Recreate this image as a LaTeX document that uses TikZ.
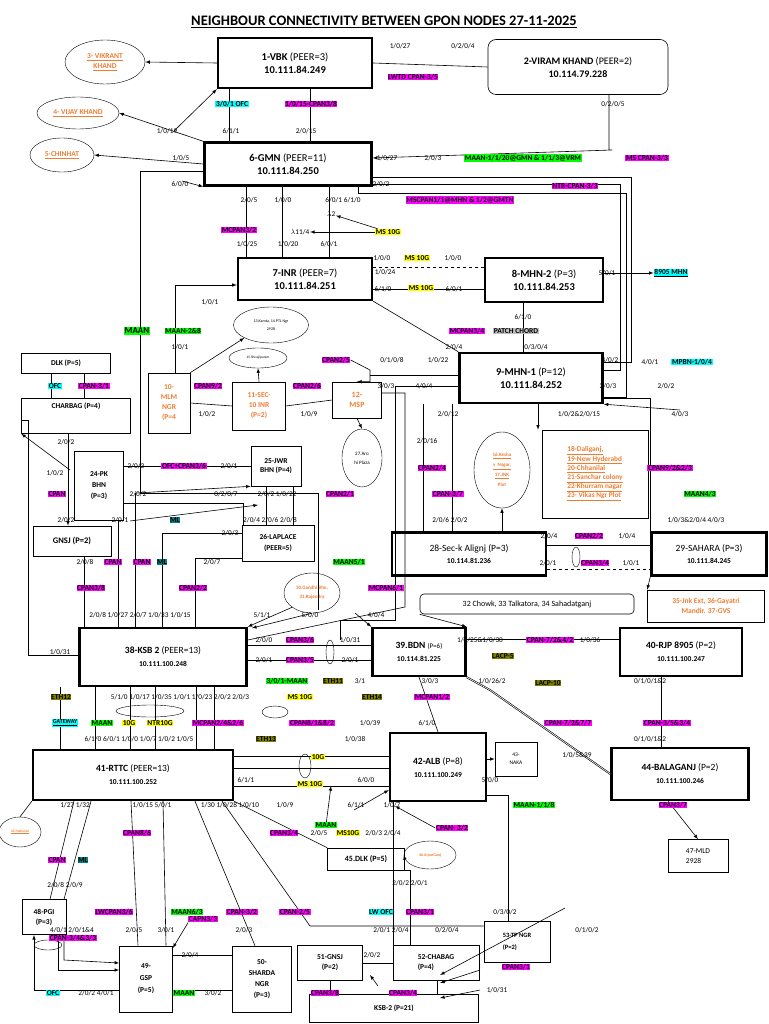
\documentclass[tikz,border=0pt]{standalone}
\usepackage{fontspec}
\setmainfont{Carlito}
\usetikzlibrary{positioning,shapes.geometric}
\definecolor{mag}{RGB}{255,0,255}
\definecolor{grn}{RGB}{0,255,0}
\definecolor{yel}{RGB}{255,255,0}
\definecolor{cya}{RGB}{0,255,255}
\definecolor{olv}{RGB}{128,128,0}
\definecolor{tel}{RGB}{0,128,128}
\definecolor{gry}{RGB}{192,192,192}
\definecolor{org}{RGB}{237,125,49}
\tikzset{
  box/.style={draw, line width=#1, align=center, inner sep=1pt, font=\fontsize{8}{10}\selectfont},
  box/.default=0.6pt,
  big/.style={box=2.4pt, font=\fontsize{10.5}{13}\selectfont},
  site/.style={draw, ellipse, align=center, text=org, font=\fontsize{7.5}{10}\selectfont\bfseries},
  oval/.style={draw, ellipse, align=center, inner sep=0pt},
  tag/.style={fill=#1, inner sep=0.6pt, font=\fontsize{7.5}{8}\selectfont\bfseries},
  port/.style={inner sep=0.5pt, font=\fontsize{7.3}{8}\selectfont},
  link/.style={line width=0.6pt},
  arr/.style={link, -latex}
}
\def\pl(#1,#2)#3{\node[port] at (#1,#2) {#3};}
\begin{document}
\begin{tikzpicture}[x=1pt,y=-1pt]
\useasboundingbox (0,0) rectangle (768,1024);
% title
\node[font=\fontsize{14.5}{16}\selectfont\bfseries] (title) at (384,22) {\underline{NEIGHBOUR CONNECTIVITY BETWEEN GPON NODES 27-11-2025}};
% main nodes
\node[big, minimum width=154, minimum height=50] (vbk) at (295,63) {\textbf{1-VBK} (PEER=3)\\\textbf{10.111.84.249}};
\node[box, rounded corners=8pt, minimum width=180, minimum height=55, font=\fontsize{10}{13}\selectfont] (viram) at (578,67) {\textbf{2-VIRAM KHAND} (PEER=2)\\\textbf{10.114.79.228}};
\node[site, minimum width=80, minimum height=44] (vikrant) at (105,62) {\underline{3- VIKRANT}\\\underline{KHAND}};
\node[site, minimum width=82, minimum height=32] (vijay) at (78,113) {\underline{4- VIJAY KHAND}};
\node[site, minimum width=64, minimum height=34] (chinhat) at (62,155) {\underline{5-CHINHAT}};
\node[big, minimum width=167, minimum height=43] (gmn) at (288,164) {\textbf{6-GMN} (PEER=11)\\\textbf{10.111.84.250}};
\node[big, minimum width=134, minimum height=42] (inr) at (305,279) {\textbf{7-INR} (PEER=7)\\\textbf{10.111.84.251}};
\node[big, minimum width=118, minimum height=44] (mhn2) at (544,280) {\textbf{8-MHN-2} (P=3)\\\textbf{10.111.84.253}};
\node[tag=cya] (mhn8905) at (671,273) {\underline{8905 MHN}};
\node[big, minimum width=143, minimum height=50] (mhn1) at (531,378) {\textbf{9-MHN-1} (P=12)\\\textbf{10.111.84.252}};
\node[box, minimum width=89, minimum height=20, font=\fontsize{7.5}{9}\selectfont\bfseries] (dlk) at (66,363) {DLK (P=5)};
\node[box, minimum width=109, minimum height=35, font=\fontsize{7.5}{9}\selectfont\bfseries, anchor=north, text depth=20pt] (charbag) at (76,398) {CHARBAG (P=4)};
\node[box, minimum width=42, minimum height=60, text=org, font=\fontsize{7.5}{10}\selectfont\bfseries] (mlm) at (169,403) {10-\\MLM\\NGR\\(P=4};
\node[box, minimum width=53, minimum height=48, text=org, font=\fontsize{7.5}{10}\selectfont\bfseries] (sec10) at (259,406) {11-SEC-\\10 INR\\(P=2)};
\node[box, minimum width=49, minimum height=36, text=org, font=\fontsize{8}{10}\selectfont\bfseries] (msp) at (357,400) {12-\\MSP};
\node[oval, minimum width=75, minimum height=36, font=\fontsize{4}{8}\selectfont] (kamta) at (271,325) {13.Kamta, 14.PTL Ngr\\2928};
\node[oval, minimum width=58, minimum height=20, font=\fontsize{3.5}{5}\selectfont] (shivaji) at (258,358) {15.Shivajipuram};
\node[oval, minimum width=40, minimum height=58, font=\fontsize{5}{9}\selectfont] (arohi) at (362,458) {27.Aro\\hi Plaza};
\node[box, minimum width=49, minimum height=69, font=\fontsize{7.5}{11}\selectfont\bfseries] (pkbhn) at (99,486) {24-PK\\BHN\\(P=3)};
\node[box, minimum width=50, minimum height=40, font=\fontsize{7.5}{9}\selectfont\bfseries] (jwr) at (276,466) {25-JWR\\BHN (P=4)};
\node[box, minimum width=72, minimum height=36, font=\fontsize{7.5}{11}\selectfont\bfseries] (laplace) at (278,543) {26-LAPLACE\\(PEER=5)};
\node[box, minimum width=78, minimum height=30, font=\fontsize{8.5}{10}\selectfont\bfseries] (gnsj) at (72,541) {GNSJ (P=2)};
\node[big, minimum width=154, minimum height=43, font=\fontsize{9.5}{12}\selectfont] (seck) at (469,554) {28-Sec-k Alignj (P=3)\\\textbf{\fontsize{7.5}{10}\selectfont 10.114.81.236}};
\node[big, minimum width=115, minimum height=43, font=\fontsize{9.5}{12}\selectfont] (sahara) at (709,554) {29-SAHARA (P=3)\\\textbf{\fontsize{7.5}{10}\selectfont 10.111.84.245}};
\node[oval, minimum width=56, minimum height=76, text=org, font=\fontsize{5}{10}\selectfont\bfseries] (kesha) at (502,470) {\underline{16.Kesha}\\\underline{v\ \ Nagar,}\\\underline{17.JNK}\\Plot};
\node[box, minimum width=106, minimum height=88, text=org, align=left, font=\fontsize{7.3}{9.2}\selectfont\bfseries] (dali) at (595,474) {\underline{18-Daliganj,}\\\underline{19-New Hyderabd}\\\underline{20-Chhanilal}\\\underline{21-Sanchar colony}\\\underline{22-Khurram nagar}\\\underline{23- Vikas Ngr Plot}};
\node[oval, minimum width=56, minimum height=40, text=org, font=\fontsize{5}{9}\selectfont\bfseries] (gandhi) at (312,593) {30.Gandhi Bhn,\\31.Rajendra};
\node[box, rounded corners=4pt, minimum width=214, minimum height=20, font=\fontsize{8}{9}\selectfont] (chowk) at (527,604) {32 Chowk, 33 Talkatora, 34 Sahadatganj};
\node[box, minimum width=117, minimum height=32, text=org, font=\fontsize{7.5}{10}\selectfont\bfseries] (jnk) at (706,606) {35-Jnk Ext, 36-Gayatri\\Mandir. 37-GVS};
\node[big, minimum width=167, minimum height=58, font=\fontsize{9.5}{13}\selectfont] (ksb) at (163,657) {\textbf{38-KSB 2} (PEER=13)\\\textbf{\fontsize{7.5}{10}\selectfont 10.111.100.248}};
\node[big, minimum width=93, minimum height=48, font=\fontsize{9.5}{13}\selectfont] (bdn) at (419,652) {\textbf{39.BDN} {\fontsize{7}{9}\selectfont(P=6)}\\\textbf{\fontsize{7.5}{10}\selectfont 10.114.81.225}};
\node[big, minimum width=122, minimum height=48, font=\fontsize{9.5}{13}\selectfont] (rjp) at (681,652) {\textbf{40-RJP 8905} (P=2)\\\textbf{\fontsize{7.5}{10}\selectfont 10.111.100.247}};
\node[big, minimum width=200, minimum height=50, font=\fontsize{9.5}{13}\selectfont] (rttc) at (133,775) {\textbf{41-RTTC} (PEER=13)\\\textbf{\fontsize{7.5}{10}\selectfont 10.111.100.252}};
\node[big, minimum width=96, minimum height=68, font=\fontsize{9.5}{13}\selectfont, anchor=north] (alb) at (438,732) {\textbf{42-ALB} (P=8)\\\textbf{\fontsize{7.5}{10}\selectfont 10.111.100.249}};
\node[box, minimum width=42, minimum height=34, font=\fontsize{5.5}{8}\selectfont] (naka) at (516,759) {43-\\NAKA};
\node[big, minimum width=137, minimum height=52, font=\fontsize{9.5}{13}\selectfont] (bala) at (680,774) {\textbf{44-BALAGANJ} (P=2)\\\textbf{\fontsize{7.5}{10}\selectfont 10.111.100.246}};
\node[box, minimum width=77, minimum height=22, font=\fontsize{8}{9}\selectfont\bfseries] (dlk45) at (366,859) {45.DLK (P=5)};
\node[oval, minimum width=52, minimum height=28, text=org, font=\fontsize{4}{5}\selectfont\bfseries] (arjun) at (430,855) {46.ArjunGanj};
\node[oval, minimum width=42, minimum height=30, text=org, font=\fontsize{3.5}{5}\selectfont\bfseries] (mahani) at (20,832) {\underline{45.Mahanisi}};
\node[box, minimum width=60, minimum height=33, align=left, font=\fontsize{7.5}{10}\selectfont] (mld) at (698,856) {47-MLD\\2928};
\node[box, minimum width=44, minimum height=35, font=\fontsize{7.5}{10}\selectfont\bfseries] (pgi) at (44,917) {48-PGI\\(P=3)};
\node[box, minimum width=53, minimum height=66, font=\fontsize{7.5}{12}\selectfont\bfseries] (gsp) at (146,979) {49-\\GSP\\(P=5)};
\node[box, minimum width=59, minimum height=66, font=\fontsize{7.5}{11}\selectfont\bfseries] (sharda) at (262,979) {50-\\SHARDA\\NGR\\(P=3)};
\node[box, minimum width=65, minimum height=35, font=\fontsize{7.5}{10}\selectfont\bfseries] (gnsj51) at (330,963) {51-GNSJ\\(P=2)};
\node[box, minimum width=86, minimum height=35, align=left, font=\fontsize{7.5}{10}\selectfont\bfseries] (chabag) at (436,963) {52-CHABAG\\(P=4)};
\node[box, minimum width=66, minimum height=41, align=left, font=\fontsize{6.5}{12}\selectfont\bfseries] (tpngr) at (517,942) {53-TP NGR\\(P=2)};
\node[box, minimum width=169, minimum height=28, font=\fontsize{7.5}{9}\selectfont\bfseries] (ksb21) at (394,1008) {KSB-2 (P=21)};
% top links
\draw[link] (vbk.east) -- (viram.west);
\draw[arr] (vbk.west) -- (vikrant.east);
\draw[arr] (gmn.north west) -- (vijay.east);
\draw[arr] (gmn.west) -- (chinhat.east);
\coordinate (c19) at (174,131);
\draw[arr] (c19) -- (vbk.south west);
\coordinate (c600) at (182,181);
\draw[arr] (c600) -- (gmn.south west);
\draw[link] (vbk.south -| 229,0) -- (gmn.north -| 229,0);
\draw[link] (vbk.south -| 310,0) -- (gmn.north -| 310,0);
\draw[arr] (viram.south -| 609,0) |- (612,150) -- (gmn.east |- 0,158);
\draw[link] (gmn.south -| 246,0) -- (inr.north -| 246,0);
\draw[link] (gmn.south -| 282,0) -- (inr.north -| 282,0);
\draw[link] (gmn.south -| 329,0) -- (inr.north -| 329,0);
\node[tag=yel] (ms10a) at (388,232) {MS 10G};
\node[port] (lam11) at (300,232) {$\lambda$11/4};
\node[port] (lam2) at (331,214) {$\lambda$2};
\draw[arr] (ms10a) -- (lam11);
\draw[arr] (ms10a) -- (lam2);
\draw[link] (gmn.east |- 0,177) -- (631,177) |- (mhn1.east |- 0,362);
\draw[link] (gmn.east |- 0,184) -- (620,184) |- (mhn1.east |- 0,370);
\draw[link] (358,186) -- (358,193) -- (626,193) -- (626,397) -- (mhn1.east |- 0,397);
\draw[link, dashed] (inr.east |- 0,267) -- (mhn2.west |- 0,267);
\draw[link] (inr.east |- 0,289) -- (mhn2.west |- 0,289);
\draw[arr] (mhn2.east |- 0,273) -- (mhn8905);
\draw[link] (mhn2.south -| 523,0) -- (mhn1.north -| 523,0);
\draw[link] (inr.south east) -- (mhn1.north west);
\draw[link] (gmn.west |- 0,171) -- (140,171) -- (140,493) -- (318,493) -- (318,610);
\draw[arr] (175,373) |- (inr.west |- 0,285);
\draw[arr] (mlm.north east) -- (kamta.south west);
\draw[link] (mlm.east) -- (sec10.west);
\draw[link] (sec10.east) -- (msp.west);
\draw[arr] (sec10.north) -- (shivaji.south);
\draw[arr] (msp.south) -- (arohi.north);
\node[tag=mag] (cpan25) at (336,360) {CPAN2/5};
\draw[arr] (cpan25.east) -- (370,370) |- (msp.north);
\draw[link] (370,375) -- (mhn1.west |- 0,375);
\draw[link] (msp.east |- 0,393) -- (405,393) -- (405,607) -- (ksb.east |- 0,640);
\draw[link] (mhn1.west |- 0,386) -- (395,386) -- (395,620) -- (340,620) -- (340,640);
\draw[link] (mhn1.south -| 423,0) -- (seck.north -| 423,0);
\draw[link] (mhn1.south -| 452,0) -- (seck.north -| 452,0);
\draw[arr] (mhn1.south -| 538,0) -- (dali.north -| 538,0);
\draw[arr] (seck.north -| 502,0) -- (kesha.south);
\draw[link] (mhn1.east |- 0,398) -- (650,398) -- (sahara.north -| 650,0);
\coordinate (c403) at (680,410);
\draw[arr] (c403) -- (mhn1.south east);
\draw[link] (seck.east |- 0,545) -- (sahara.west |- 0,545);
\draw[link, dashed] (seck.east |- 0,569) -- (sahara.west |- 0,569);
\draw (576,557) ellipse (4 and 10);
\draw[arr] (sahara.south west) -- (jnk.north west);
% left column
\draw[link] (dlk.south -| 51,0) -- (charbag.north -| 51,0);
\draw[link] (dlk.south -| 84,0) -- (charbag.north -| 84,0);
\draw[arr] (charbag.south -| 68,0) -- (gnsj.north -| 68,0);
\draw[arr] (70,470) -- (charbag.south west);
\draw[link] (charbag.west |- 0,420) -- (28,420) -- (28,655) -- (ksb.west |- 0,655);
\draw[link] (pkbhn.east |- 0,466) -- (jwr.west |- 0,466);
\draw[link] (pkbhn.east |- 0,503) -- (243,503) -- (243,525);
\draw[arr] (137,493) -- (jwr.south west);
\draw[arr] (130,521) -- (258,505);
\draw[link] (jwr.south -| 266,0) -- (laplace.north -| 266,0);
\draw[link] (jwr.south -| 293,0) -- (laplace.north -| 293,0);
\draw[link] (laplace.west |- 0,533) -- (162,533) -- (162,628);
\draw[link] (laplace.west |- 0,558) -- (195,558) -- (195,628);
\draw[link] (pkbhn.south -| 118,0) -- (118,628);
\draw[link] (gnsj.south -| 84,0) -- (84,628);
\draw[link] (135,493) -- (135,628);
\draw[arr] (gandhi.south west) -- (ksb.north east);
\draw[arr] (gandhi.south) -- (252,628);
\draw[arr] (chowk.south west) -- (bdn.north east);
\draw[arr] (355,613) -- (bdn.north west);
\draw[link] (ksb.east |- 0,645) -- (bdn.west |- 0,645);
\draw[link] (ksb.east |- 0,660) -- (bdn.west |- 0,660);
\draw (330,652) ellipse (4 and 12);
\draw[link, double] (bdn.east |- 0,640) -- (rjp.west |- 0,640);
\draw[link, double] (bdn.south east) -- (490,690) -- (bala.west);
\draw[link, double] (rjp.south -| 662,0) -- (bala.north -| 662,0);
\draw[arr] (bala.south -| 668,0) -- (mld.north);
% lower part
\draw[link] (ksb.south -| 60,0) -- (rttc.north -| 60,0);
\draw[link] (ksb.south -| 95,0) -- (rttc.north -| 95,0);
\draw[link] (ksb.south -| 130,0) -- (rttc.north -| 130,0);
\draw[link] (ksb.south -| 155,0) -- (rttc.north -| 155,0);
\draw[link] (ksb.south -| 196,0) -- (rttc.north -| 196,0);
\draw[link] (ksb.south -| 214,0) -- (rttc.north -| 214,0);
\draw (150,711) ellipse (34 and 6);
\draw (275,712) ellipse (13 and 6);
\draw[link] (bdn.south) -- (alb.north);
\draw[link, double] (rttc.east |- 0,757) -- (alb.west |- 0,757);
\draw[link] (rttc.east |- 0,768) -- (alb.west |- 0,768);
\draw[link] (rttc.east |- 0,786) -- (alb.west |- 0,786);
\draw (305,766) ellipse (6 and 12);
\draw[arr] (alb.east |- 0,759) -- (naka.west);
\node[tag=grn] (maan42) at (326,825) {MAAN};
\draw[arr] (maan42) -- (331,786);
\draw[arr] (354,810) -- (alb.west |- 0,790);
\draw[link] (alb.east |- 0,795) -- (508,795) -- (508,922);
\draw[link] (alb.south -| 393,0) -- (chabag.north -| 393,0);
\draw[link] (dlk45.east |- 0,870) -- (410,870) -- (chabag.north -| 410,0);
\draw[arr] (dlk45.east) -- (arjun.west);
\node[tag=mag] (cpan32) at (452,828) {CPAN- 3/2};
\draw[arr] (cpan32.west) -- (395,806);
\draw[link] (rttc.south east) -- (dlk45.north west);
\draw[link] (rttc.south -| 222,0) -- (310,926) -- (tpngr.west |- 0,926);
\draw[link] (rttc.south -| 195,0) -- (sharda.north -| 255,0);
\draw[link] (rttc.south -| 163,0) -- (gsp.north -| 166,0);
\draw[link] (rttc.south -| 131,0) -- (gsp.north -| 138,0);
\draw[link] (rttc.south -| 74,0) -- (pgi.north -| 50,0);
\draw[link] (rttc.south -| 91,0) -- (pgi.north -| 64,0);
\draw[link] (rttc.south west) -- (mahani.north);
\draw[arr] (pgi.south -| 58,0) -- (58,970) -- (gsp.west |- 0,970);
\draw[arr] (pgi.south -| 64,0) -- (64,960) -- (gsp.west |- 0,963);
\draw (48,945) ellipse (14 and 5);
\draw[arr] (gsp.west |- 0,990) -- (34,990) -- (34,935);
\draw[link] (gsp.east |- 0,955) -- (sharda.west |- 0,955);
\draw[link] (gsp.east |- 0,990) -- (sharda.west |- 0,990);
\node[tag=mag] (capn33) at (203,919) {CAPN3/3};
\draw[arr] (capn33.south west) -- (gsp.east |- 0,948);
\draw[link] (gnsj51.east) -- (chabag.west);
\draw[link] (gnsj51.south) -- (gnsj51.south |- ksb21.north);
\coordinate (c102) at (565,908);
\draw[arr] (c102) -- (440,975);
\coordinate (c131) at (480,970);
\draw[arr] (c131) -- (440,983);
\coordinate (c1031) at (480,990);
\draw[arr] (c1031) -- (440,998);
\draw[link] (chabag.south -| 437,0) -- (ksb21.north -| 437,0);
\draw[arr] (378,986) -- (370,975);
% tags
\node[tag=mag] at (413,77) {LWTD CPAN-3/5};
\node[tag=cya] at (232,104) {3/0/1 OFC};
\node[tag=mag] at (311,104) {1/0/15-CPAN3/8};
\node[tag=grn] at (523,158) {MAAN-1/1/20@GMN \& 1/1/3@VRM};
\node[tag=mag] at (647,158) {MS CPAN-3/3};
\node[tag=mag] at (575,186) {NTR-CPAN-3/3};
\node[tag=mag] at (460,200) {MSCPAN1/1@MHN \& 1/2@GMTN};
\node[tag=mag] at (239,230) {MCPAN3/2};
\node[tag=yel] at (417,258) {MS 10G};
\node[tag=yel] at (421,288) {MS 10G};
\node[tag=mag] at (467,331) {MCPAN3/4};
\node[tag=gry] at (516,331) {PATCH CHORD};
\node[tag=grn, font=\fontsize{9}{10}\selectfont\bfseries] at (137,331) {MAAN};
\node[tag=grn] at (183,331) {MAAN-2\&8};
\node[tag=cya] at (55,386) {OFC};
\node[tag=mag] at (94,386) {CPAN-3/1};
\node[tag=mag] at (208,386) {CPAN9/2};
\node[tag=mag] at (307,386) {CPAN2/6};
\node[tag=cya] at (692,362) {MPBN-1/0/4};
\node[tag=mag] at (432,468) {CPAN2/4};
\node[tag=mag] at (448,494) {CPAN-3/7};
\node[tag=mag] at (670,468) {CPAN9/2\&2/3};
\node[tag=grn] at (700,494) {MAAN4/3};
\node[tag=mag] at (589,536) {CPAN2/2};
\node[tag=mag] at (595,563) {CPAN3/4};
\node[tag=mag] at (184,466) {OFC+CPAN3/6};
\node[tag=mag] at (340,494) {CPAN2/1};
\node[tag=mag] at (57,494) {CPAN};
\node[tag=tel] at (175,520) {ML};
\node[tag=mag] at (113,562) {CPAN};
\node[tag=mag] at (142,562) {CPAN};
\node[tag=tel] at (162,562) {ML};
\node[tag=grn] at (349,562) {MAAN5/1};
\node[tag=mag] at (91,588) {CPAN3/8};
\node[tag=mag] at (193,588) {CPAN2/2};
\node[tag=mag] at (386,588) {MCPAN6/1};
\node[tag=mag] at (300,640) {CPAN3/6};
\node[tag=mag] at (300,660) {CPAN3/5};
\node[tag=mag] at (550,640) {CPAN-7/2\&4/2};
\node[tag=olv] at (503,656) {LACP-5};
\node[tag=olv] at (548,683) {LACP-10};
\node[tag=grn] at (287,681) {3/0/1-MAAN};
\node[tag=olv] at (333,681) {ETH11};
\node[tag=olv] at (61,697) {ETH12};
\node[tag=yel] at (300,697) {MS 10G};
\node[tag=olv] at (372,697) {ETH14};
\node[tag=mag] at (432,697) {MCPAN1/2};
\node[tag=cya, font=\fontsize{6}{7}\selectfont\bfseries] at (65,723) {\underline{GATEWAY}};
\node[tag=grn] at (102,723) {MAAN};
\node[tag=yel] at (129,723) {10G};
\node[tag=yel] at (160,723) {NTR10G};
\node[tag=mag] at (218,723) {MCPAN2/4\&2/6};
\node[tag=mag] at (312,723) {CPAN8/1\&8/2};
\node[tag=mag] at (568,723) {CPAN-7/2\&7/7};
\node[tag=mag] at (667,723) {CPAN-3/5\&3/4};
\node[tag=olv] at (266,739) {ETH13};
\node[tag=yel] at (318,757) {10G};
\node[tag=yel] at (310,784) {MS 10G};
\node[tag=grn] at (534,805) {MAAN-1/1/8};
\node[tag=mag] at (673,805) {CPAN3/7};
\node[tag=mag] at (137,833) {CPAN8/6};
\node[tag=mag] at (284,833) {CPAN3/4};
\node[tag=yel] at (348,833) {MS10G};
\node[tag=mag] at (57,860) {CPAN};
\node[tag=tel] at (83,860) {ML};
\node[tag=mag] at (114,912) {LWCPAN3/6};
\node[tag=grn] at (187,912) {MAAN6/3};
\node[tag=mag] at (242,912) {CPAN-3/2};
\node[tag=mag] at (295,912) {CPAN-2/5};
\node[tag=cya] at (381,912) {LW OFC};
\node[tag=mag] at (420,912) {CPAN3/1};
\node[tag=mag] at (73,938) {CPAN-3/4\&3/3};
\node[tag=cya] at (53,993) {OFC};
\node[tag=grn] at (184,993) {MAAN};
\node[tag=mag] at (325,993) {CPAN3/8};
\node[tag=mag] at (403,993) {CPAN3/4};
\node[tag=mag] at (516,967) {CPAN3/1};
% port numbers
\pl(400,46){1/0/27} \pl(463,46){0/2/0/4} \pl(167,131){1/0/19} \pl(231,131){6/1/1} \pl(306,131){2/0/15}
\pl(613,104){0/2/0/5} \pl(181,158){1/0/5} \pl(180,184){6/0/0} \pl(387,158){1/0/27} \pl(433,158){2/0/3}
\pl(381,184){2/0/2} \pl(249,200){2/0/5} \pl(283,200){1/0/0} \pl(343,200){6/0/1 6/1/0}
\pl(247,244){1/0/25} \pl(288,244){1/0/20} \pl(329,244){6/0/1} \pl(382,258){1/0/0} \pl(453,258){1/0/0}
\pl(385,272){1/0/24} \pl(383,289){6/1/0} \pl(454,289){6/0/1} \pl(607,273){5/0/1} \pl(210,302){1/0/1}
\pl(523,317){6/1/0} \pl(536,347){0/3/0/4} \pl(454,347){2/0/4} \pl(180,347){1/0/1} \pl(392,360){0/1/0/8}
\pl(438,360){1/0/22} \pl(610,360){4/0/2} \pl(650,362){4/0/1} \pl(386,386){3/0/3} \pl(424,386){4/0/4}
\pl(608,386){2/0/3} \pl(666,386){2/0/2} \pl(207,414){1/0/2} \pl(309,414){1/0/9} \pl(448,414){2/0/12}
\pl(579,414){1/0/2\&2/0/15} \pl(680,414){4/0/3} \pl(427,441){2/0/16} \pl(66,442){2/0/2} \pl(55,473){1/0/2}
\pl(136,466){2/0/3} \pl(229,466){2/0/1} \pl(138,494){2/0/2} \pl(226,494){0/2/0/7} \pl(277,494){2/0/2 1/0/22}
\pl(66,520){2/0/2} \pl(120,520){2/0/1} \pl(270,520){2/0/4 2/0/6 2/0/8} \pl(230,533){2/0/3}
\pl(450,520){2/0/6 2/0/2} \pl(696,520){1/0/3\&2/0/4 4/0/3} \pl(549,536){2/0/4} \pl(627,536){1/0/4}
\pl(548,563){2/0/1} \pl(631,563){1/0/1} \pl(85,562){2/0/8} \pl(212,562){2/0/7}
\pl(140,615){2/0/8 1/0/27 2/0/7 1/0/33 1/0/15} \pl(262,615){5/1/1} \pl(310,615){5/0/0} \pl(376,615){4/0/4}
\pl(60,652){1/0/31} \pl(264,640){2/0/0} \pl(350,640){1/0/31} \pl(264,660){2/0/1} \pl(350,660){2/0/1}
\pl(480,640){1/0/25\&1/0/30} \pl(590,640){1/0/36} \pl(430,681){3/0/3} \pl(492,681){1/0/26/2}
\pl(360,681){3/1} \pl(650,681){0/1/0/1\&2} \pl(180,697){5/1/0 1/0/17 1/0/35 1/0/1 1/0/23 2/0/2 2/0/3}
\pl(370,723){1/0/39} \pl(427,723){6/1/0} \pl(650,739){0/1/0/1\&2}
\pl(139,739){6/1/0 6/0/1 1/0/0 1/0/7 1/0/2 1/0/5} \pl(355,739){1/0/38} \pl(577,755){1/0/5\&39}
\pl(246,780){6/1/1} \pl(366,780){6/0/0} \pl(490,780){5/0/0} \pl(75,805){1/27 1/32}
\pl(152,805){1/0/15 5/0/1} \pl(230,805){1/30 1/0/28 1/0/10} \pl(285,805){1/0/9} \pl(356,805){6/1/1}
\pl(392,805){1/0/7} \pl(319,833){2/0/5} \pl(383,833){2/0/3 2/0/4} \pl(410,883){2/0/2 2/0/1}
\pl(65,885){2/0/8 2/0/9} \pl(505,912){0/3/0/2} \pl(72,930){4/0/1 2/0/1\&4} \pl(134,930){2/0/5}
\pl(166,930){3/0/1} \pl(244,930){2/0/3} \pl(391,930){2/0/1 2/0/4} \pl(447,930){0/2/0/4}
\pl(587,930){0/1/0/2} \pl(190,955){2/0/4} \pl(372,955){2/0/2} \pl(96,993){2/0/2 4/0/1}
\pl(213,993){3/0/2} \pl(497,990){1/0/31}
\end{tikzpicture}
\end{document}
